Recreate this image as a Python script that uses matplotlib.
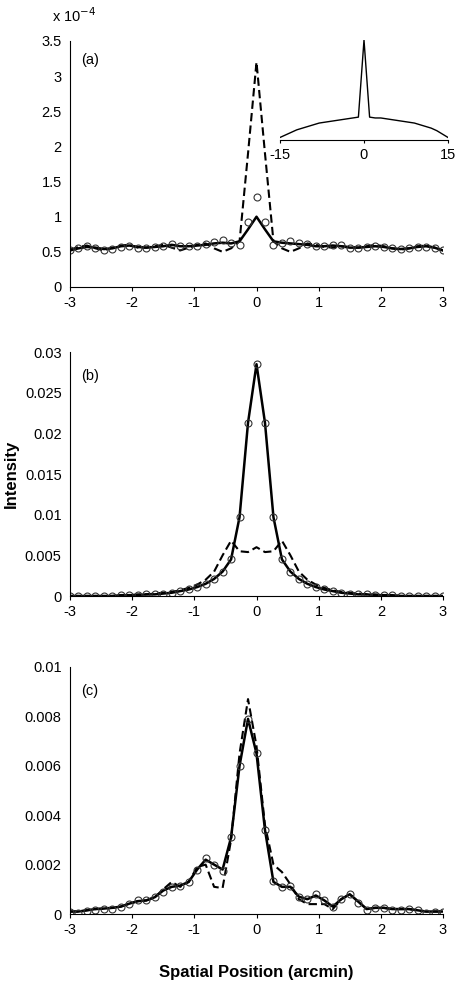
import numpy as np
import matplotlib
matplotlib.use("Agg")
import matplotlib.pyplot as plt

plt.rcParams['font.family'] = ['Liberation Sans', 'DejaVu Sans']

x = np.round(np.linspace(-3, 3, 45), 4)

# Panel (a) values in units of 1e-4
a_solid = [0.52,0.55,0.57,0.56,0.54,0.55,0.58,0.59,0.57,0.56,0.57,0.58,0.60,0.58,0.58,0.59,0.60,0.62,0.63,0.62,0.65,0.82,1.00,0.82,0.65,0.63,0.62,0.61,0.60,0.58,0.58,0.59,0.58,0.56,0.56,0.57,0.58,0.57,0.55,0.54,0.55,0.57,0.58,0.56,0.52]
a_dash  = [0.53,0.57,0.59,0.55,0.52,0.56,0.59,0.60,0.56,0.56,0.58,0.60,0.56,0.52,0.56,0.60,0.62,0.55,0.50,0.55,0.65,1.90,3.20,1.90,0.65,0.55,0.50,0.55,0.62,0.60,0.57,0.56,0.58,0.57,0.56,0.58,0.60,0.58,0.55,0.53,0.55,0.58,0.59,0.56,0.52]
a_circ  = [0.52,0.55,0.58,0.56,0.53,0.54,0.57,0.59,0.56,0.56,0.57,0.59,0.61,0.59,0.58,0.59,0.61,0.64,0.67,0.63,0.60,0.93,1.28,0.93,0.60,0.63,0.66,0.62,0.61,0.58,0.58,0.60,0.60,0.56,0.56,0.57,0.59,0.57,0.55,0.54,0.55,0.57,0.57,0.55,0.52]

# Inset
inset_x = list(range(-15, 16))
inset_y = [0.10,0.13,0.16,0.19,0.21,0.23,0.25,0.27,0.28,0.29,0.30,0.31,0.32,0.33,0.34,1.25,0.34,0.33,0.33,0.32,0.31,0.30,0.29,0.28,0.27,0.25,0.23,0.21,0.18,0.14,0.10]

# Panel (b)
b_solid = [0.0000,0.0000,0.0000,0.0000,0.0000,0.0000,0.0001,0.0001,0.0001,0.0002,0.0002,0.0003,0.0004,0.0006,0.0008,0.0011,0.0015,0.0021,0.0030,0.0045,0.0097,0.0213,0.0285,0.0213,0.0097,0.0045,0.0030,0.0021,0.0015,0.0011,0.0008,0.0006,0.0004,0.0003,0.0002,0.0002,0.0001,0.0001,0.0001,0.0000,0.0000,0.0000,0.0000,0.0000,0.0000]
b_dash  = [0.0000,0.0000,0.0000,0.0000,0.0000,0.0000,0.0001,0.0001,0.0002,0.0002,0.0003,0.0004,0.0005,0.0007,0.0010,0.0014,0.0020,0.0030,0.0050,0.0068,0.0055,0.0054,0.0060,0.0054,0.0055,0.0068,0.0050,0.0030,0.0020,0.0014,0.0010,0.0007,0.0005,0.0004,0.0003,0.0002,0.0002,0.0001,0.0001,0.0000,0.0000,0.0000,0.0000,0.0000,0.0000]
b_circ  = b_solid

# Panel (c)
c_solid = [0.0001,0.0001,0.00015,0.0002,0.00022,0.00025,0.0003,0.00042,0.00052,0.00055,0.00068,0.00095,0.0011,0.00115,0.0013,0.0018,0.0022,0.0020,0.0018,0.0031,0.0060,0.0079,0.0065,0.0034,0.0013,0.0011,0.0011,0.0007,0.0006,0.00075,0.00055,0.0003,0.0006,0.0008,0.0005,0.0002,0.00025,0.00025,0.0002,0.0002,0.0002,0.00015,0.0001,0.0001,0.0001]
c_dash  = [0.0001,0.0001,0.00015,0.0002,0.00022,0.00025,0.0003,0.00042,0.00052,0.00055,0.00068,0.0010,0.0013,0.0011,0.0013,0.0019,0.0020,0.0011,0.00105,0.0030,0.0065,0.0087,0.0068,0.0036,0.0020,0.0017,0.0012,0.0006,0.0004,0.0004,0.0004,0.0002,0.0006,0.0008,0.0005,0.0002,0.00025,0.00025,0.0002,0.0002,0.0002,0.00015,0.0001,0.0001,0.0001]
c_circ  = [0.0001,0.00005,0.00012,0.00015,0.0002,0.00022,0.0003,0.0004,0.00055,0.00055,0.0007,0.0009,0.0011,0.00115,0.0013,0.0018,0.00225,0.0020,0.00175,0.0031,0.0060,0.0079,0.0065,0.0034,0.00135,0.0011,0.00115,0.0007,0.0006,0.0008,0.00055,0.0003,0.0006,0.0008,0.00045,0.00015,0.00025,0.00025,0.00015,0.00015,0.0002,0.00015,0.00005,0.0001,0.0001]

W, H = 474, 986
fig = plt.figure(figsize=(W/100, H/100), dpi=100)

def style(ax, ylim, yticks, ylabels):
    ax.set_xlim(-3, 3)
    ax.set_ylim(*ylim)
    ax.set_xticks([-3,-2,-1,0,1,2,3])
    ax.set_xticklabels(['-3','-2','-1','0','1','2','3'])
    ax.set_yticks(yticks)
    ax.set_yticklabels(ylabels)
    for s in ['top','right']:
        ax.spines[s].set_visible(False)
    ax.tick_params(axis='both', direction='out', length=3, labelsize=10.5)
    ax.tick_params(axis='y', length=0, pad=6)

def draw(ax, ys, yd, yc):
    ax.plot(x, yd, color='black', lw=1.5, ls=(0, (4, 2)))
    ax.plot(x, ys, color='black', lw=1.8)
    ax.plot(x, yc, ls='none', marker='o', ms=5, mfc='none', mec='#333333', mew=0.8)

L, R = 70/W, 443/W
axa = fig.add_axes([L, 1-287/H, R-L, (287-41)/H])
draw(axa, a_solid, a_dash, a_circ)
style(axa, (0, 3.5), np.arange(0, 3.6, 0.5), ['0','0.5','1','1.5','2','2.5','3','3.5'])
axa.text(0.03, 0.95, '(a)', transform=axa.transAxes, fontsize=10.5, va='top')
fig.text(52/W, 1-22/H, r'x 10$^{-4}$', fontsize=10.5)

axi = fig.add_axes([280/W, 1-140/H, (448-280)/W, 100/H])
axi.plot(inset_x, inset_y, color='black', lw=1.0)
axi.set_xlim(-15, 15)
axi.set_ylim(0.07, 1.25)
axi.set_xticks([-15, 0, 15])
axi.set_xticklabels(['-15', '0', '15'])
axi.set_yticks([])
for s in ['top','right','left']:
    axi.spines[s].set_visible(False)
axi.tick_params(axis='x', length=2, labelsize=10.5)
axi.patch.set_alpha(0)

axb = fig.add_axes([L, 1-596/H, R-L, (596-352)/H])
draw(axb, b_solid, b_dash, b_circ)
style(axb, (0, 0.03), np.arange(0, 0.031, 0.005), ['0','0.005','0.01','0.015','0.02','0.025','0.03'])
axb.text(0.03, 0.93, '(b)', transform=axb.transAxes, fontsize=10.5, va='top')
axb.set_ylabel('Intensity', fontsize=12, fontweight='bold', labelpad=4)

axc = fig.add_axes([L, 1-914/H, R-L, (914-667)/H])
draw(axc, c_solid, c_dash, c_circ)
style(axc, (0, 0.01), np.arange(0, 0.0101, 0.002), ['0','0.002','0.004','0.006','0.008','0.01'])
axc.text(0.03, 0.93, '(c)', transform=axc.transAxes, fontsize=10.5, va='top')
axc.set_xlabel('Spatial Position (arcmin)', fontsize=12, fontweight='bold', labelpad=20)

fig.savefig('out.png', dpi=100)
